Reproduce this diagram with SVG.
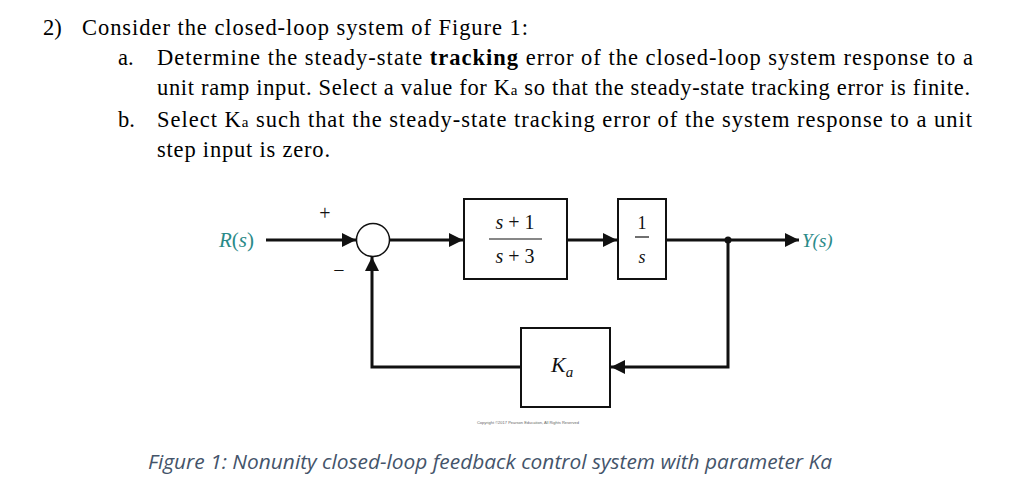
<svg xmlns="http://www.w3.org/2000/svg" width="1024" height="486" viewBox="0 0 1024 486">
<defs>
<marker id="ah" viewBox="0 0 10 10" refX="10" refY="5" markerWidth="14" markerHeight="14" markerUnits="userSpaceOnUse" orient="auto"><path d="M0,0 L10,5 L0,10 z" fill="#111"/></marker>
</defs>
<style>
.t{font-family:"Liberation Serif",serif;font-size:22.5px;fill:#000}
.m{font-family:"Liberation Serif",serif;fill:#111}
.mi{font-family:"Liberation Serif",serif;font-style:italic;fill:#111}
.blk{fill:#fff;stroke:#111;stroke-width:2}
.w{fill:none;stroke:#111;stroke-width:3}
</style>
<rect width="1024" height="486" fill="#fff"/>
<g id="text">
<text class="t" x="43" y="35">2)</text>
<text class="t" x="82" y="35" textLength="446">Consider the closed-loop system of Figure 1:</text>
<text class="t" x="118" y="65">a.</text>
<text class="t" x="157" y="65" textLength="816">Determine the steady-state <tspan font-weight="bold">tracking</tspan> error of the closed-loop system response to a</text>
<text class="t" x="157" y="95" textLength="813">unit ramp input. Select a value for K<tspan font-size="15">a</tspan> so that the steady-state tracking error is finite.</text>
<text class="t" x="118" y="127">b.</text>
<text class="t" x="157" y="127" textLength="815">Select K<tspan font-size="15">a</tspan> such that the steady-state tracking error of the system response to a unit</text>
<text class="t" x="157" y="157" textLength="173">step input is zero.</text>
</g>
<g id="connectors">
<line class="w" x1="266" y1="240" x2="356" y2="240" marker-end="url(#ah)"/>
<line class="w" x1="390" y1="240" x2="463" y2="240" marker-end="url(#ah)"/>
<line class="w" x1="568" y1="240" x2="617" y2="240" marker-end="url(#ah)"/>
<line class="w" x1="667" y1="240" x2="799" y2="240" marker-end="url(#ah)"/>
<polyline class="w" points="728,240 728,367 611,367" marker-end="url(#ah)"/>
<polyline class="w" points="521,367 372,367 372,257" marker-end="url(#ah)"/>
<circle cx="728" cy="240" r="3.5" fill="#111"/>
</g>
<g id="sum"><circle cx="373" cy="240" r="16.5" fill="#fff" stroke="#111" stroke-width="1.5"/>
<text class="m" x="325" y="220" font-size="20" text-anchor="middle">+</text>
<text class="m" x="339" y="277" font-size="20" text-anchor="middle">−</text></g>
<g id="g1"><rect class="blk" x="464" y="199" width="103" height="80"/>
<text class="mi" x="515" y="229" font-size="20" text-anchor="middle">s<tspan font-style="normal"> + 1</tspan></text>
<line x1="489" y1="239" x2="542" y2="239" stroke="#111" stroke-width="1.2"/>
<text class="mi" x="515" y="263" font-size="20" text-anchor="middle">s<tspan font-style="normal"> + 3</tspan></text></g>
<g id="g2"><rect class="blk" x="618" y="199" width="48" height="80"/>
<text class="m" x="642" y="229" font-size="18" text-anchor="middle">1</text>
<line x1="635" y1="237" x2="649" y2="237" stroke="#111" stroke-width="1.2"/>
<text class="mi" x="642" y="263" font-size="18" text-anchor="middle">s</text></g>
<g id="ka"><rect class="blk" x="521" y="328" width="89" height="79"/>
<text class="mi" x="551" y="372" font-size="22">K<tspan font-size="15" dy="5">a</tspan></text></g>
<g id="labels">
<text class="mi" x="219" y="247" font-size="21" style="fill:#2a8a88">R<tspan font-style="normal">(</tspan>s<tspan font-style="normal">)</tspan></text>
<text class="mi" x="802" y="247" font-size="19" style="fill:#2a8a88">Y(s)</text>
<text x="528" y="424" font-family="Liberation Sans,sans-serif" font-size="4" fill="#666" text-anchor="middle">Copyright ©2017 Pearson Education, All Rights Reserved</text>
<text x="148" y="469" font-family="Open Sans,sans-serif" font-style="italic" font-size="20" fill="#44546A" textLength="684" lengthAdjust="spacingAndGlyphs">Figure 1: Nonunity closed-loop feedback control system with parameter Ka</text>
</g>
</svg>
